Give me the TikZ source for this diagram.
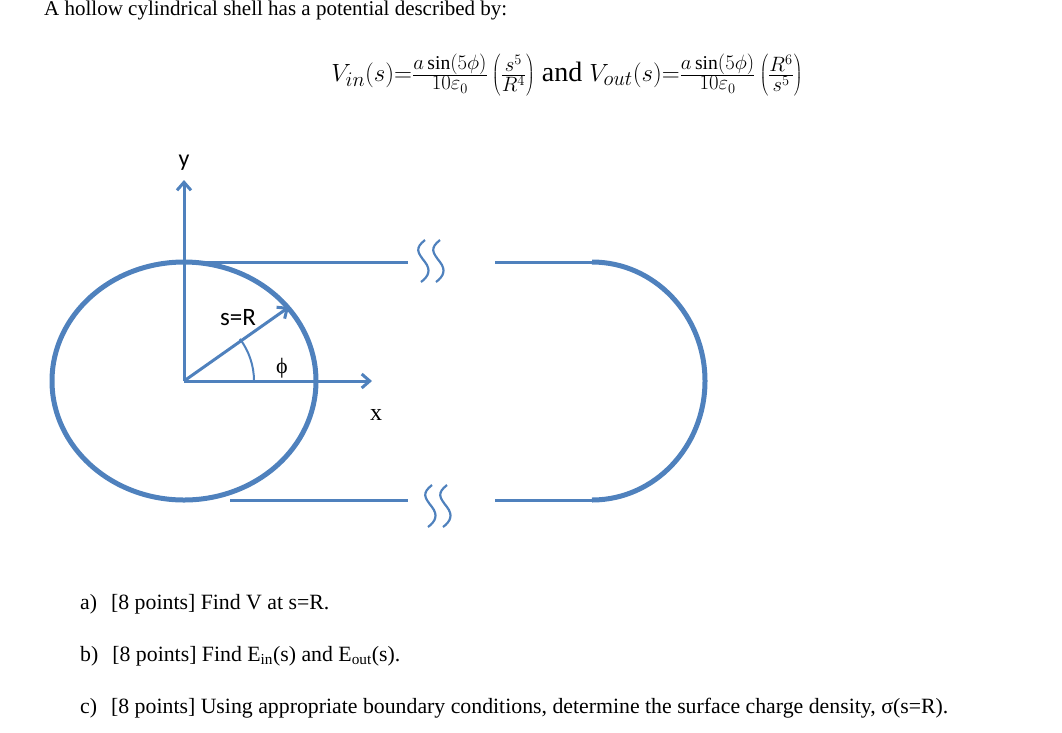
\documentclass[tikz,border=0pt]{standalone}
\usepackage{fontspec}
\setmainfont{Liberation Serif}
\newfontfamily\lab{Carlito}
\usetikzlibrary{arrows.meta}
\definecolor{sb}{RGB}{79,129,189}
\tikzset{shell/.style={draw=sb,line width=5pt},
ax/.style={draw=sb,line width=3pt,-{Straight Barb[length=8pt,width=14pt]}},
thin/.style={draw=sb,line width=3pt},
txt/.style={anchor=west,inner sep=0pt,font=\fontsize{21.8}{24}\selectfont}}
\begin{document}
\begin{tikzpicture}[x=1pt,y=-1pt]
\useasboundingbox (0,0) rectangle (1062,732);
\node[txt,font=\fontsize{21}{22}\selectfont] (title) at (44,10) {A hollow cylindrical shell has a potential described by:};
\node[inner sep=0pt,font=\fontsize{28}{30}\selectfont] (eq) at (567,75)
 {$V_{in}(s){=}\frac{a\sin(5\phi)}{10\varepsilon_0}\left(\frac{s^5}{R^4}\right)$ and $V_{out}(s){=}\frac{a\sin(5\phi)}{10\varepsilon_0}\left(\frac{R^6}{s^5}\right)$};
% shell
\draw[thin] (184,262) -- (408,262);
\draw[thin] (495,262) -- (592,262);
\draw[thin] (230,500) -- (408,500);
\draw[thin] (495,500) -- (592,500);
\draw[shell] (184,381) ellipse (132 and 119);
\draw[shell] (592,262) arc[start angle=-90,end angle=90,x radius=113,y radius=119];
% breaks
\foreach \x/\y in {425/240,440/240,432/485,447/485}{
 \draw[sb,line width=2.2pt] (\x,\y) .. controls (\x-10,\y+8) and (\x-8,\y+12) .. (\x,\y+22) .. controls (\x+6,\y+30) and (\x+4,\y+36) .. (\x-4,\y+42);}
% axes
\coordinate (o) at (184,381);
\coordinate (ye) at (184,180);
\coordinate (xe) at (372,381);
\coordinate (re) at (289,307);
\draw[ax] (o) -- (ye);
\draw[ax] (o) -- (xe);
\draw[ax] (o) -- (re);
\draw[sb,line width=2pt] (254,381) arc[start angle=0,end angle=-37,radius=70];
\node[font=\lab\fontsize{24}{26}\selectfont] (y) at (184,163) {y};
\node[font=\fontsize{24}{26}\selectfont] (x) at (376,415) {x};
\node[font=\lab\fontsize{25}{26}\selectfont] (s) at (238,318) {s=R};
\node[font=\fontsize{22}{24}\selectfont] (phi) at (282,368) {ϕ};
% questions
\node[txt] (qa) at (80,604) {a)\hspace{14pt}[8 points] Find V at s=R.};
\node[txt] (qb) at (80,656) {b)\hspace{14pt}[8 points] Find E\textsubscript{in}(s) and E\textsubscript{out}(s).};
\node[txt] (qc) at (80,708) {c)\hspace{14pt}[8 points] Using appropriate boundary conditions, determine the surface charge density, σ(s=R).};
\end{tikzpicture}
\end{document}
